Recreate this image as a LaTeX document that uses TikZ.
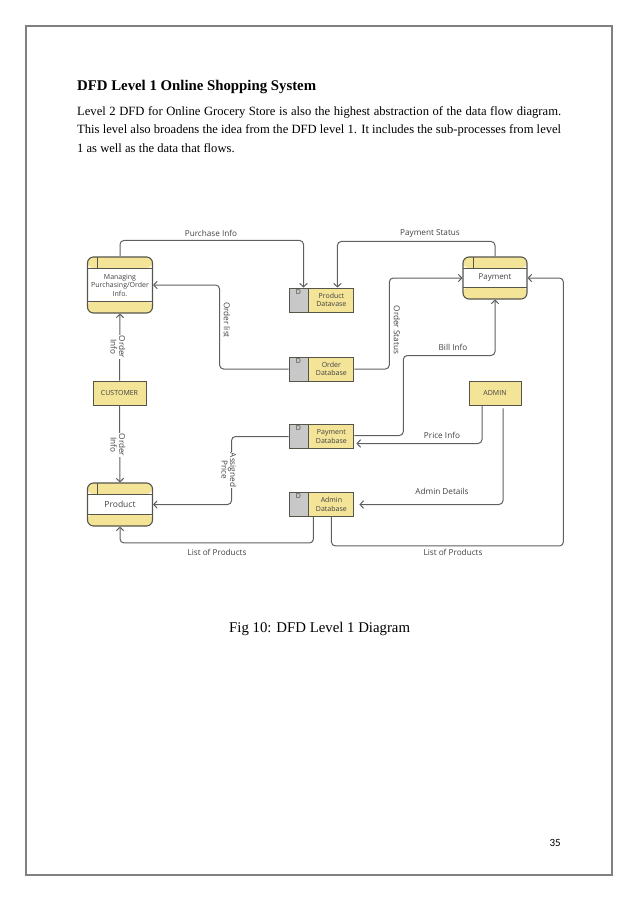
\documentclass[tikz,border=0pt]{standalone}
\usepackage{fontspec}
\setmainfont{Liberation Serif}
\setsansfont{Open Sans}
\newfontfamily\pagenofont{Carlito}
\usetikzlibrary{arrows.meta,positioning}

\definecolor{dfdyellow}{RGB}{243,228,152}
\definecolor{dfdgray}{RGB}{200,200,200}
\definecolor{dfdline}{RGB}{95,95,95}
\definecolor{dfdedge}{RGB}{85,85,75}
\definecolor{dfdtext}{RGB}{65,65,65}
\definecolor{pageframe}{RGB}{128,128,128}

\begin{document}
\begin{tikzpicture}[x=1pt, y=-1pt,
    process/.style={draw=dfdedge, line width=1.1pt, rounded corners=6pt,
        minimum width=65pt, inner sep=1pt, align=center, text=dfdtext,
        font=\sffamily\fontsize{7}{8.5}\selectfont,
        path picture={
            \fill[dfdyellow] (path picture bounding box.north west) rectangle ([yshift=-11pt]path picture bounding box.north east);
            \fill[dfdyellow] (path picture bounding box.south west) rectangle ([yshift=12pt]path picture bounding box.south east);
            \draw[dfdedge, line width=0.9pt] ([yshift=-11pt]path picture bounding box.north west) -- ([yshift=-11pt]path picture bounding box.north east);
            \draw[dfdedge, line width=0.9pt] ([yshift=12pt]path picture bounding box.south west) -- ([yshift=12pt]path picture bounding box.south east);
            \draw[dfdedge, line width=0.9pt] ([xshift=10pt]path picture bounding box.north west) -- ([xshift=10pt,yshift=-11pt]path picture bounding box.north west);
        }},
    entity/.style={draw=dfdedge, line width=0.9pt, fill=dfdyellow, minimum width=53pt,
        minimum height=24pt, inner sep=1pt, text=dfdtext, font=\sffamily\fontsize{7}{7.5}\selectfont},
    storeid/.style={draw=dfdedge, line width=0.9pt, fill=dfdgray, minimum width=19pt,
        minimum height=24pt, inner sep=0pt,
        label={[anchor=north, inner sep=1.5pt, text=dfdtext, font=\sffamily\fontsize{7}{7}\selectfont]north:D}},
    storebox/.style={draw=dfdedge, line width=0.9pt, fill=dfdyellow, minimum width=45pt,
        minimum height=24pt, inner sep=0pt, align=center, text=dfdtext,
        font=\sffamily\fontsize{7}{8.5}\selectfont},
    flow/.style={draw=dfdline, line width=1pt, rounded corners=4pt,
        -{Straight Barb[length=3.5pt,width=7.5pt]}},
    flowlbl/.style={text=dfdtext, inner sep=1pt, align=center,
        font=\sffamily\fontsize{8.2}{8.5}\selectfont}]

    \useasboundingbox (0,0) rectangle (638,902);

    % Page frame
    \draw[pageframe, line width=1.6pt] (26,26) rectangle (612,875);

    % Heading and text of the page
    \node[anchor=base west, inner sep=0pt, font=\bfseries\fontsize{14.8}{17}\selectfont] (title) at (77,90)
        {DFD Level 1 Online Shopping System};
    \node[anchor=north west, inner sep=0pt, text width=484pt, align=justify,
          font=\fontsize{12.6}{18.7}\selectfont] (intro) at (77,106)
        {Level 2 DFD for Online Grocery Store is also the highest abstraction of the data flow diagram.\linebreak
         This level also broadens the idea from the DFD level 1. It includes the sub-processes from level\linebreak
         1 as well as the data that flows.};

    % Processes
    \node[process, minimum height=56pt] (mpo) at (120,285) {Managing\\Purchasing/Order\\Info.};
    \node[process, minimum height=42pt, minimum width=64pt,
          font=\sffamily\fontsize{8}{9}\selectfont] (pay) at (495,278) {Payment};
    \node[process, minimum height=43pt,
          font=\sffamily\fontsize{8.5}{9}\selectfont] (prod) at (120,504.5) {Product};

    % External entities
    \node[entity] (cust) at (119.5,393) {CUSTOMER};
    \node[entity, minimum width=52pt] (admin) at (495,393) {ADMIN};

    % Data stores
    \foreach \nm/\y/\txt in {pdb/300/{Product\\Datavase}, odb/369/{Order\\Database},
                            pydb/436.5/{Payment\\Database}, adb/504.5/{Admin\\Database}} {
        \node[storeid] (\nm id) at (298.5,\y) {};
        \node[storebox, right=0pt of \nm id] (\nm) {\txt};
    }

    % Data flows
    \draw[flow] (mpo.north) -- ++(0,-16) -| ([xshift=5pt]pdbid.north);
    \draw[flow] (pay.north) -- ++(0,-15) -| ([xshift=6pt]pdb.north);
    \draw[flow] (odbid.west) -- ++(-69,0) |- (mpo.east);
    \draw[flow] (odb.east) -- ++(35,0) |- (pay.west);
    \draw[flow] ([yshift=1pt]pydb.east) -- ++(49,0) -- ++(0,-80) -| (pay.south);
    \draw[flow, shorten >=2pt] ([xshift=-13pt]admin.south) |- ([yshift=-7pt]pydb.east);
    \draw[flow, shorten >=5pt] ([xshift=8pt,yshift=-3pt]admin.south) |- (adb.east);
    \draw[flow] ([xshift=5pt]adb.south west) -- ++(0,26) -| (prod.south);
    \draw[flow] (adb.south) -- ++(0,29) -- ++(232,0) |- (pay.east);
    \draw[flow] (cust.north) -- (mpo.south);
    \draw[flow] (cust.south) -- (prod.north);
    \draw[flow] (pydbid.west) -- ++(-57,0) |- (prod.east);

    % Flow labels
    \node[flowlbl] (lpurch) at (211,233.5) {Purchase Info};
    \node[flowlbl] (lpaystat) at (430,233.5) {Payment Status};
    \node[flowlbl, rotate=-90] (lordlist) at (227,320) {Order list};
    \node[flowlbl, rotate=-90] (lordstat) at (397,330) {Order Status};
    \node[flowlbl] (lbill) at (453,347) {Bill Info};
    \node[flowlbl] (lprice) at (442,435) {Price Info};
    \node[flowlbl] (ladmin) at (442,491) {Admin Details};
    \node[flowlbl] (lprodl) at (217,552) {List of Products};
    \node[flowlbl] (lprodr) at (453,552) {List of Products};
    \node[flowlbl, rotate=-90, fill=white] (lordup) at (118,347) {Order\\Info};
    \node[flowlbl, rotate=-90, fill=white] (lorddn) at (118,445) {Order\\Info};
    \node[flowlbl, rotate=-90, fill=white] (lassign) at (229,470) {Assigned\\Price};

    % Caption and page number
    \node[anchor=base west, inner sep=0pt, font=\fontsize{14.8}{18}\selectfont] (caption) at (229,632)
        {Fig 10: DFD Level 1 Diagram};
    \node[anchor=base east, inner sep=0pt, font=\pagenofont\fontsize{11}{13}\selectfont] (pageno) at (561,846) {35};
\end{tikzpicture}
\end{document}
